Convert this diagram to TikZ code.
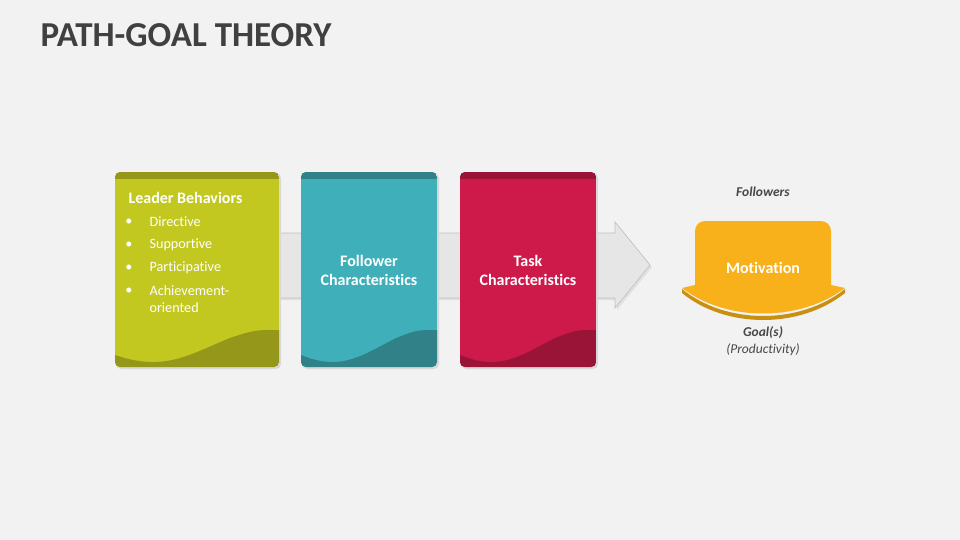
\documentclass[tikz,border=0pt]{standalone}
\usepackage{fontspec}
\setmainfont{Carlito}[Ligatures={NoCommon,NoRequired,NoContextual}]
\begin{document}
\begin{tikzpicture}[x=1pt,y=-1pt,
  txt/.style={text=white,font=\fontsize{14.2}{17}\selectfont},
  hd/.style={text=white,font=\bfseries\fontsize{16}{19}\selectfont,align=center},
  gr/.style={text=black!72,font=\bfseries\itshape\fontsize{13.5}{15}\selectfont}]
\definecolor{bg}{HTML}{F2F2F2}
\definecolor{gA}{HTML}{C2C820}\definecolor{gB}{HTML}{95971A}
\definecolor{tA}{HTML}{3FAFBA}\definecolor{tB}{HTML}{318189}
\definecolor{rA}{HTML}{CE1A4A}\definecolor{rB}{HTML}{9A1438}
\definecolor{yA}{HTML}{F8B11A}\definecolor{yB}{HTML}{C98F10}
\definecolor{arr}{HTML}{E6E6E6}
\fill[bg] (0,0) rectangle (960,540);
\useasboundingbox (0,0) rectangle (960,540);
\node[anchor=west,text=black!75,font=\bfseries\fontsize{35}{40}\selectfont] (title) at (37,35) {PATH-GOAL THEORY};
% big arrow
\fill[black!12] (280,235) -- (617,235) -- (617,224) -- (652,267) -- (617,310) -- (617,300) -- (280,300) -- cycle;
\fill[arr,draw=black!25,line width=0.6] (279,233) -- (615,233) -- (615,222) -- (650,265) -- (615,308) -- (615,298) -- (279,298) -- cycle;
% cards
\foreach \xa/\xb/\ca/\cb/\nm in {115/279/gA/gB/c1,301/437/tA/tB/c2,460/596/rA/rB/c3}{
  \pgfmathsetmacro{\w}{\xb-\xa}
  \fill[black!15,rounded corners=5] ({\xa+1},173) rectangle ({\xb+2},369);
  \begin{scope}
    \clip[rounded corners=5] (\xa,172) rectangle (\xb,367);
    \fill[\ca] (\xa,172) rectangle (\xb,367);
    \fill[\cb] (\xa,172) rectangle (\xb,179);
    \fill[\cb] (\xa,355) .. controls ({\xa+0.3*\w},372) and ({\xa+0.45*\w},355) .. ({\xa+0.7*\w},338) .. controls ({\xa+0.85*\w},330) .. (\xb,330) -- (\xb,367) -- (\xa,367) -- cycle;
  \end{scope}
  \coordinate (\nm) at ({(\xa+\xb)/2},270);
}
\node[hd,anchor=west] (lb) at (125,198) {Leader Behaviors};
\foreach \y/\t [count=\i] in {222/Directive,245/Supportive,268/Participative,291/Achievement-}{
  \node[txt] (b\i) at (129,\y) {•};
  \node[txt,anchor=west] (t\i) at (146,\y) {\t};
}
\node[txt,anchor=west] (t5) at (146,308) {oriented};
\node[hd] (fc) at (c2) {Follower\\Characteristics};
\node[hd] (tc) at (c3) {Task\\Characteristics};
% motivation
\fill[yB] (682,289) .. controls (726,325) and (800,325) .. (845,289) -- (845,293) .. controls (800,329) and (726,329) .. (682,293) -- cycle;
\fill[yA] (682,288) -- (695,285) [rounded corners=10] -- (695,221) -- (831,221) [sharp corners] -- (831,285)
  -- (845,288) .. controls (800,322) and (726,322) .. (682,288) -- cycle;
\node[text=white,font=\bfseries\fontsize{16}{18}\selectfont] (mot) at (763,268) {Motivation};
\node[gr] (fol) at (763,192) {Followers};
\node[gr] (goal) at (763,333) {Goal(s)};
\node[text=black!72,font=\itshape\fontsize{13.5}{15}\selectfont] (prod) at (763,350) {(Productivity)};
\end{tikzpicture}
\end{document}
